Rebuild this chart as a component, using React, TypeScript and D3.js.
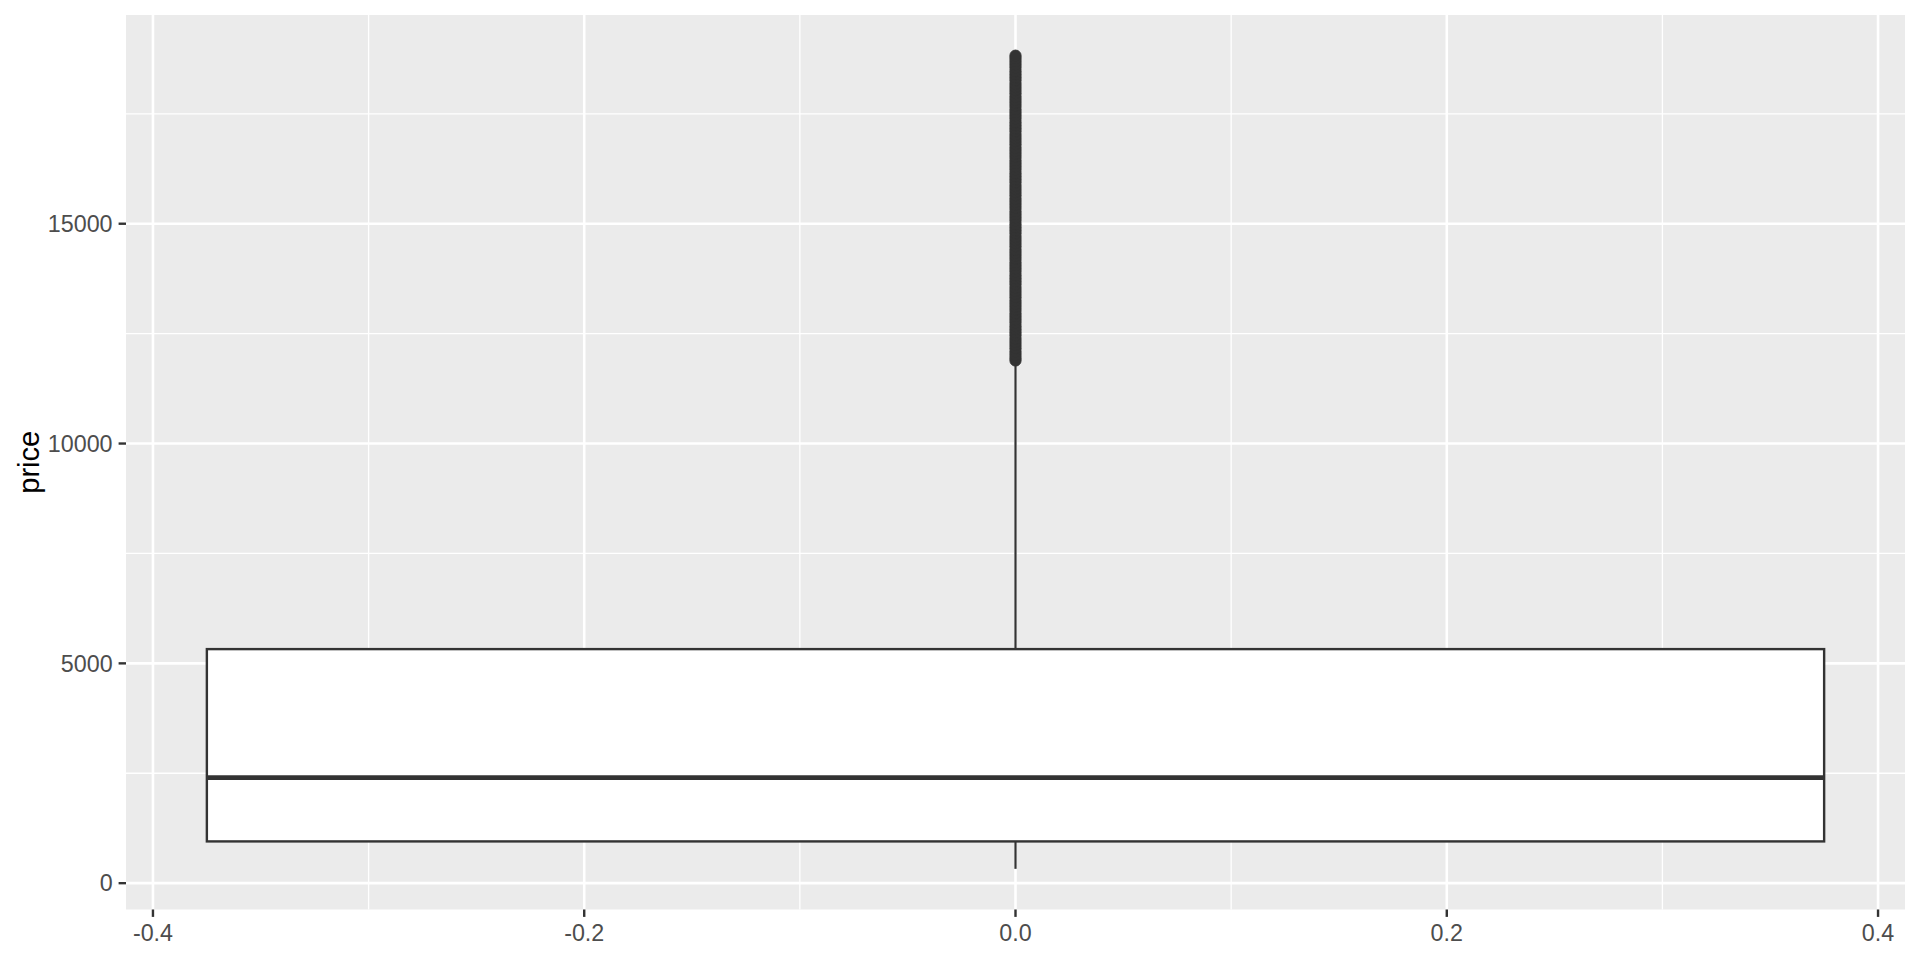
import * as d3 from 'd3'

const WIDTH = 1920
const HEIGHT = 960
const MARGIN = { top: 15, right: 15, bottom: 50.5, left: 126 }

// boxplot summary for price (single group at x = 0)
const groupX = [0]
const boxWidth = 0.75
const whiskerLow = [326]
const quartile1 = [950]
const medians = [2401]
const quartile3 = [5324]
const whiskerHigh = [11886]

// outliers above the upper whisker
const outliers = [
  11890, 11950, 12020, 12090, 12170, 12240, 12310, 12380, 12460, 12530,
  12600, 12670, 12750, 12820, 12890, 12960, 13040, 13110, 13180, 13250,
  13330, 13400, 13470, 13540, 13620, 13690, 13760, 13830, 13910, 13980,
  14050, 14120, 14200, 14270, 14340, 14410, 14490, 14560, 14630, 14700,
  14780, 14850, 14920, 14990, 15070, 15140, 15210, 15280, 15360, 15430,
  15500, 15570, 15650, 15720, 15790, 15860, 15940, 16010, 16080, 16150,
  16230, 16300, 16370, 16440, 16520, 16590, 16660, 16730, 16810, 16880,
  16950, 17020, 17100, 17170, 17240, 17310, 17390, 17460, 17530, 17600,
  17680, 17750, 17820, 17890, 17970, 18040, 18110, 18180, 18260, 18330,
  18400, 18470, 18550, 18620, 18690, 18760, 18823,
]

const xTicks = [-0.4, -0.2, 0, 0.2, 0.4]
const xMinor = [-0.3, -0.1, 0.1, 0.3]
const yTicks = [0, 5000, 10000, 15000]
const yMinor = [2500, 7500, 12500, 17500]

const PANEL_BG = '#EBEBEB'
const INK = '#333333'
const TICK_TEXT = '#4D4D4D'
const FONT = '"Liberation Sans", Arial, Helvetica, sans-serif'

const fmtX = (v: number) => d3.format('.1f')(v).replace('\u2212', '-')

export default function App() {
  const innerRight = WIDTH - MARGIN.right
  const innerBottom = HEIGHT - MARGIN.bottom

  const xExtent = [-boxWidth / 2, boxWidth / 2]
  const xPad = (xExtent[1] - xExtent[0]) * 0.05
  const x = d3
    .scaleLinear()
    .domain([xExtent[0] - xPad, xExtent[1] + xPad])
    .range([MARGIN.left, innerRight])

  const yMin = d3.min(whiskerLow) ?? 0
  const yMax = d3.max(outliers) ?? 1
  const yPad = (yMax - yMin) * 0.05
  const y = d3
    .scaleLinear()
    .domain([yMin - yPad, yMax + yPad])
    .range([innerBottom, MARGIN.top])

  const tickLen = 7.4
  const tickFont = 23.3
  const titleFont = 29.1

  return (
    <svg
      width={WIDTH}
      height={HEIGHT}
      style={{ position: 'absolute', left: 0, top: 0, background: '#fff' }}
      fontFamily={FONT}
    >
      <rect
        x={MARGIN.left}
        y={MARGIN.top}
        width={innerRight - MARGIN.left}
        height={innerBottom - MARGIN.top}
        fill={PANEL_BG}
      />

      {/* minor grid */}
      {yMinor.map((v) => (
        <line
          key={`ym${v}`}
          x1={MARGIN.left}
          x2={innerRight}
          y1={y(v)}
          y2={y(v)}
          stroke="#fff"
          strokeWidth={1.3}
        />
      ))}
      {xMinor.map((v) => (
        <line
          key={`xm${v}`}
          x1={x(v)}
          x2={x(v)}
          y1={MARGIN.top}
          y2={innerBottom}
          stroke="#fff"
          strokeWidth={1.3}
        />
      ))}

      {/* major grid */}
      {yTicks.map((v) => (
        <line
          key={`yg${v}`}
          x1={MARGIN.left}
          x2={innerRight}
          y1={y(v)}
          y2={y(v)}
          stroke="#fff"
          strokeWidth={2.6}
        />
      ))}
      {xTicks.map((v) => (
        <line
          key={`xg${v}`}
          x1={x(v)}
          x2={x(v)}
          y1={MARGIN.top}
          y2={innerBottom}
          stroke="#fff"
          strokeWidth={2.6}
        />
      ))}

      {groupX.map((g, i) => {
        const left = x(g - boxWidth / 2)
        const right = x(g + boxWidth / 2)
        return (
          <g key={`box${g}`}>
            <line
              x1={x(g)}
              x2={x(g)}
              y1={y(quartile3[i])}
              y2={y(whiskerHigh[i])}
              stroke={INK}
              strokeWidth={2.2}
            />
            <line
              x1={x(g)}
              x2={x(g)}
              y1={y(quartile1[i])}
              y2={y(whiskerLow[i])}
              stroke={INK}
              strokeWidth={2.2}
            />
            <rect
              x={left}
              y={y(quartile3[i])}
              width={right - left}
              height={y(quartile1[i]) - y(quartile3[i])}
              fill="#fff"
              stroke={INK}
              strokeWidth={2.4}
            />
            <line
              x1={left}
              x2={right}
              y1={y(medians[i])}
              y2={y(medians[i])}
              stroke={INK}
              strokeWidth={4.8}
            />
            {outliers.map((v) => (
              <circle
                key={`o${v}`}
                cx={x(g)}
                cy={y(v)}
                r={5.6}
                fill={INK}
                stroke={INK}
                strokeWidth={1}
              />
            ))}
          </g>
        )
      })}

      {/* y axis */}
      {yTicks.map((v) => (
        <g key={`yt${v}`}>
          <line
            x1={MARGIN.left - tickLen}
            x2={MARGIN.left}
            y1={y(v)}
            y2={y(v)}
            stroke={INK}
            strokeWidth={2.4}
          />
          <text
            x={MARGIN.left - tickLen - 6}
            y={y(v)}
            dy="0.35em"
            textAnchor="end"
            fontSize={tickFont}
            fill={TICK_TEXT}
          >
            {v}
          </text>
        </g>
      ))}

      {/* x axis */}
      {xTicks.map((v) => (
        <g key={`xt${v}`}>
          <line
            x1={x(v)}
            x2={x(v)}
            y1={innerBottom}
            y2={innerBottom + tickLen}
            stroke={INK}
            strokeWidth={2.4}
          />
          <text
            x={x(v)}
            y={innerBottom + tickLen + 6}
            dy="0.76em"
            textAnchor="middle"
            fontSize={tickFont}
            fill={TICK_TEXT}
          >
            {fmtX(v)}
          </text>
        </g>
      ))}

      <text
        transform={`translate(${29 + titleFont * 0.36}, ${(MARGIN.top + innerBottom) / 2}) rotate(-90)`}
        textAnchor="middle"
        fontSize={titleFont}
        fill="#000"
      >
        price
      </text>
    </svg>
  )
}
